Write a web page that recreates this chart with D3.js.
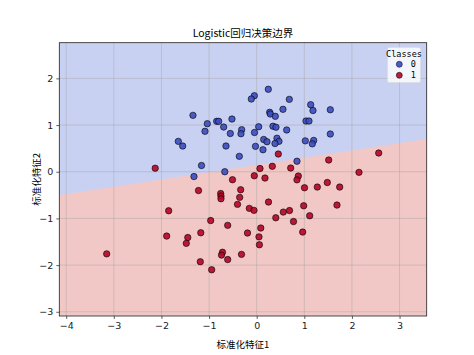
<!DOCTYPE html>
<html>
<head>
<meta charset="utf-8">
<script src="https://cdn.jsdelivr.net/npm/d3@7"></script>
<style>
  body { margin: 0; background: #fff; }
  text { font-family: "Liberation Sans", "Noto Sans CJK SC", sans-serif; }
  .cjk { font-family: "Noto Sans CJK SC", sans-serif; }
</style>
</head>
<body>
<div id="chart"></div>
<script>
// class 0 points (blue)
var class0X = [0.244, -0.050, -0.113, 0.685, 1.134, 1.182, 1.546, 0.552, 0.273, 0.286,
  0.391, -1.338, -0.519, -0.840, -0.798, -1.037, -0.693, -1.086, 0.042, 0.342,
  0.405, 1.035, 1.098, -0.315, -0.330, -0.554, -0.046, 0.630, 1.546, -1.646,
  -1.554, -0.645, 0.147, 0.216, 0.426, 0.468, 0.384, 1.021, 1.197, 1.168,
  -0.025, 0.132, -0.365, 0.846, -1.159, -1.317, -0.670];
var class0Y = [1.766, 1.628, 1.558, 1.551, 1.436, 1.311, 1.328, 1.337, 1.273, 1.236,
  1.187, 1.208, 1.129, 1.080, 1.080, 1.029, 0.958, 0.866, 0.964, 0.975,
  0.954, 1.086, 1.086, 0.900, 0.814, 0.819, 0.840, 0.894, 0.808, 0.651,
  0.551, 0.551, 0.690, 0.643, 0.718, 0.651, 0.604, 0.662, 0.671, 0.598,
  0.544, 0.471, 0.330, 0.225, 0.133, -0.103, 0.000];

// class 1 points (red)
var class1X = [-2.131, 0.454, 1.512, 0.069, 0.328, 0.714, -0.050, 0.174, -0.508, -1.222,
  -0.336, -0.756, -0.750, -0.750, -0.357, -0.403, 0.248, -0.155, -0.057, -1.848,
  -0.966, 0.401, -0.609, 0.086, -1.890, -1.447, -1.478, -1.174, -0.193, 0.048,
  0.057, -3.150, -0.718, -0.739, -0.609, -0.319, -1.184, -0.945, 2.562, 2.148,
  0.874, 0.846, 1.483, 1.273, 1.743, 1.004, 1.686, 0.987, 0.559, 0.689,
  1.113, 0.773, 0.966];
var class1Y = [0.075, 0.379, 0.251, 0.069, 0.116, 0.079, -0.086, -0.135, -0.171, -0.403,
  -0.386, -0.467, -0.521, -0.579, -0.549, -0.699, -0.649, -0.784, -0.827, -0.836,
  -1.046, -0.986, -1.148, -1.206, -1.378, -1.410, -1.534, -1.307, -1.313, -1.395,
  -1.564, -1.759, -1.725, -1.785, -1.881, -1.770, -1.928, -2.100, 0.401, -0.013,
  -0.092, -0.174, -0.231, -0.328, -0.328, -0.343, -0.714, -0.729, -0.864, -0.831,
  -0.943, -1.067, -1.292];

// decision boundary: feature2 = intercept + slope * feature1
var boundaryIntercept = 0.146;
var boundarySlope = 0.1555;

var xTicks = [-4, -3, -2, -1, 0, 1, 2, 3];
var yTicks = [-3, -2, -1, 0, 1, 2];
var classLabels = ["0", "1"];

var svgWidth = 474;
var svgHeight = 355;
var margin = { top: 42.7, right: 47.3, bottom: 39, left: 59.3 };
var width = svgWidth - margin.left - margin.right;
var height = svgHeight - margin.top - margin.bottom;

var xDomain = [-4.145, 3.57];
var yDomain = [-3.09, 2.764];

var pointColors = ["#3b4cc0", "#b40426"];
var regionColors = ["#c9d1f3", "#f1c8c5"];

var svg = d3.select("#chart").append("svg")
  .attr("width", svgWidth)
  .attr("height", svgHeight);

var chartGroup = svg.append("g")
  .attr("transform", `translate(${margin.left}, ${margin.top})`);

var xScale = d3.scaleLinear().domain(xDomain).range([0, width]);
var yScale = d3.scaleLinear().domain(yDomain).range([height, 0]);

var lineY = x => boundaryIntercept + boundarySlope * x;

// decision regions: red everywhere, blue above the boundary
var line = d3.line().x(d => xScale(d[0])).y(d => yScale(d[1]));
var upper = [[xDomain[0], lineY(xDomain[0])], [xDomain[1], lineY(xDomain[1])],
  [xDomain[1], yDomain[1]], [xDomain[0], yDomain[1]]];

chartGroup.append("rect").attr("width", width).attr("height", height)
  .attr("fill", regionColors[1]);
chartGroup.append("path").attr("d", line(upper) + "Z").attr("fill", regionColors[0]);

// grid
chartGroup.selectAll(".gx").data(xTicks).enter().append("line")
  .attr("x1", d => xScale(d)).attr("x2", d => xScale(d))
  .attr("y1", 0).attr("y2", height)
  .attr("stroke", "#a0a0a0").attr("stroke-opacity", 0.6).attr("stroke-width", 0.7);
chartGroup.selectAll(".gy").data(yTicks).enter().append("line")
  .attr("y1", d => yScale(d)).attr("y2", d => yScale(d))
  .attr("x1", 0).attr("x2", width)
  .attr("stroke", "#a0a0a0").attr("stroke-opacity", 0.6).attr("stroke-width", 0.7);

// points
var pts0 = class0X.map((x, i) => ({ x: x, y: class0Y[i], c: 0 }));
var pts1 = class1X.map((x, i) => ({ x: x, y: class1Y[i], c: 1 }));

chartGroup.selectAll(".pt").data(pts0.concat(pts1)).enter().append("circle")
  .attr("cx", d => xScale(d.x))
  .attr("cy", d => yScale(d.y))
  .attr("r", 3.2)
  .attr("fill", d => pointColors[d.c])
  .attr("fill-opacity", 0.9)
  .attr("stroke", "#000")
  .attr("stroke-width", 0.6);

// axes
var bottomAxis = d3.axisBottom(xScale).tickValues(xTicks).tickSize(3).tickPadding(3)
  .tickFormat(d => d < 0 ? "\u2212" + Math.abs(d) : d);
var leftAxis = d3.axisLeft(yScale).tickValues(yTicks).tickSize(3).tickPadding(3)
  .tickFormat(d => d < 0 ? "\u2212" + Math.abs(d) : d);

var gx = chartGroup.append("g").attr("transform", `translate(0, ${height})`).call(bottomAxis);
var gy = chartGroup.append("g").call(leftAxis);
[gx, gy].forEach(function(g) {
  g.select(".domain").remove();
  g.selectAll("line").attr("stroke", "#222").attr("stroke-width", 0.7);
  g.selectAll("text").attr("font-size", 9.5).attr("fill", "#222")
    .style("font-family", "'DejaVu Sans', sans-serif");
});

chartGroup.append("rect")
  .attr("width", width).attr("height", height)
  .attr("fill", "none").attr("stroke", "#222").attr("stroke-width", 0.8);

// title and labels
svg.append("text")
  .attr("class", "cjk")
  .attr("x", margin.left + width / 2).attr("y", 37)
  .attr("text-anchor", "middle").attr("font-size", 10.5)
  .text("Logistic回归决策边界");

svg.append("text")
  .attr("class", "cjk")
  .attr("x", margin.left + width / 2).attr("y", 348)
  .attr("text-anchor", "middle").attr("font-size", 9.5)
  .text("标准化特征1");

svg.append("text")
  .attr("class", "cjk")
  .attr("transform", `translate(40, ${margin.top + height / 2}) rotate(-90)`)
  .attr("text-anchor", "middle").attr("font-size", 9.5)
  .text("标准化特征2");

// legend
var legend = svg.append("g").attr("transform", "translate(387.3, 47.3)");
legend.append("rect")
  .attr("width", 33.4).attr("height", 35.4).attr("rx", 2)
  .attr("fill", "#fff").attr("fill-opacity", 0.8)
  .attr("stroke", "#d0d0d0").attr("stroke-width", 0.6);
legend.append("text")
  .attr("x", 16.7).attr("y", 10)
  .attr("text-anchor", "middle").attr("font-size", 8.5)
  .style("font-family", "'DejaVu Sans Mono', monospace")
  .text("Classes");
classLabels.forEach(function(lab, i) {
  legend.append("circle")
    .attr("cx", 12).attr("cy", 17 + i * 11).attr("r", 3)
    .attr("fill", pointColors[i]).attr("fill-opacity", 0.9)
    .attr("stroke", "#000").attr("stroke-width", 0.5);
  legend.append("text")
    .attr("x", 26).attr("y", 20 + i * 11)
    .attr("text-anchor", "middle").attr("font-size", 8.5)
    .style("font-family", "'DejaVu Sans Mono', monospace")
    .text(lab);
});
</script>
</body>
</html>
